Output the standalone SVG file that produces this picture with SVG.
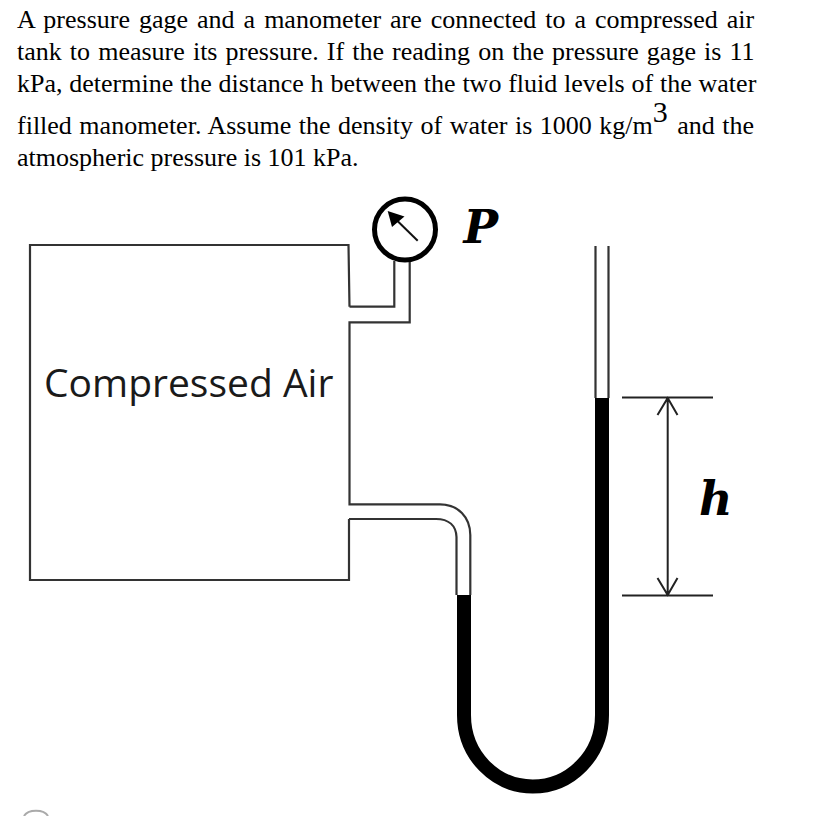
<svg xmlns="http://www.w3.org/2000/svg" width="836" height="816" viewBox="0 0 836 816">
<style>
.q{font-family:"Liberation Serif","Times New Roman",serif;font-size:26px;fill:#000}
.v{font-family:"DejaVu Serif","Liberation Serif",serif;font-weight:bold;font-style:italic;font-size:46px;fill:#000}
.l{font-family:"Open Sans","Liberation Sans",sans-serif;font-size:39px;fill:#1a1a1a}
.w{fill:none;stroke:#333;stroke-width:2.200}
.d{fill:none;stroke:#222;stroke-width:2}
</style>
<rect width="836" height="816" fill="#fff"/>
<g id="question">
<text class="q" x="17" y="28" word-spacing="2.500">A pressure gage and a manometer are connected to a compressed air</text>
<text class="q" x="17" y="60" word-spacing="1.600">tank to measure its pressure. If the reading on the pressure gage is 11</text>
<text class="q" x="17" y="92" word-spacing="0.300">kPa, determine the distance h between the two fluid levels of the water</text>
<text class="q" x="17" y="134" word-spacing="1">filled manometer. Assume the density of water is 1000 kg/m<tspan font-size="30" dy="-12">3</tspan><tspan dy="12" dx="2"> and the</tspan></text>
<text class="q" x="17" y="166">atmospheric pressure is 101 kPa.</text>
</g>
<g id="tank">
<path class="w" d="M349.500 306.700H394.300V261M409.700 261V322.300H349.500V504.300H440C458 504.300 470.300 517 470.300 535V595M349 519H436C449 519 456 526 456.500 537V595M349 519V580H30V245H348.500L349.500 306.700"/>
<text class="l" x="44" y="397">Compressed Air</text>
</g>
<g id="gauge">
<circle cx="405" cy="229.500" r="30.500" fill="#fff" stroke="#000" stroke-width="5"/>
<path d="M417.700 240.700L397 220.500" stroke="#111" stroke-width="2" fill="none"/>
<path d="M387.700 211L404.500 216.500 392 227Z" fill="#000"/>
<text class="v" x="463.500" y="243">P</text>
</g>
<g id="manometer">
<path class="w" d="M595.500 246V398M608.500 246V398"/>
<path d="M464 595V715C464 755 495 786.500 532.700 786.500C570.500 786.500 602 755 602 715V398" fill="none" stroke="#000" stroke-width="14"/>
</g>
<g id="connectors">
<path class="d" d="M622 397.500H713M622 595.500H713M667.700 398V595M657.500 415L667.700 398 677.500 415M657.500 578L667.700 595 677.500 578"/>
<text class="v" x="699" y="515">h</text>
</g>
<path id="radio" d="M24 816C28 809 44 809 48 816" fill="none" stroke="#aaa" stroke-width="2"/>
</svg>
